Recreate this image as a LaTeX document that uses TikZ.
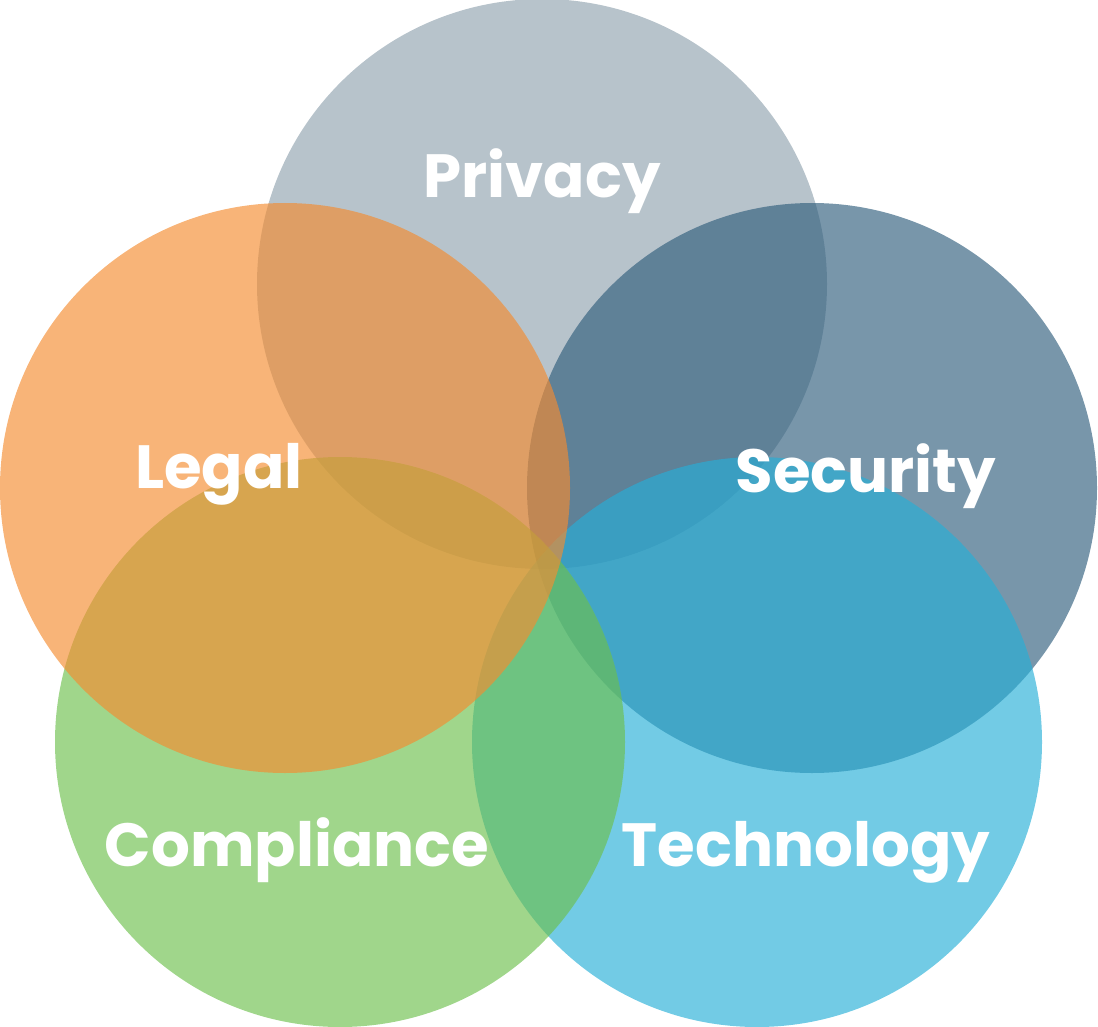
\documentclass[tikz,border=0pt]{standalone}
\usepackage{fontspec}
\setmainfont{Poppins}[UprightFont=* Bold]
\usepackage{xcolor}
\usepackage{tikz}
\usetikzlibrary{positioning}

\definecolor{privacycol}{RGB}{145,163,175}
\definecolor{securitycol}{RGB}{48,94,125}
\definecolor{techcol}{RGB}{38,175,215}
\definecolor{compliancecol}{RGB}{109,192,77}
\definecolor{legalcol}{RGB}{244,140,48}

\begin{document}
\begin{tikzpicture}[
    x=1pt, y=-1pt,
    area/.style={circle, minimum size=570pt, inner sep=0pt, fill opacity=0.65},
    tag/.style={text=white, anchor=base, inner sep=0pt, font=\fontsize{61}{68}\selectfont}
]
    \useasboundingbox (0,0) rectangle (1098,1027);
    % circles, back to front
    \node[area, fill=privacycol] (privacy) at (542,284) {};
    \node[area, fill=securitycol] (security) at (812,488) {};
    \node[area, fill=techcol] (technology) at (757,742) {};
    \node[area, fill=compliancecol] (compliance) at (340,742) {};
    \node[area, fill=legalcol] (legal) at (285,488) {};
    % labels
    \node[tag] (privacylbl) at (542,198) {Privacy};
    \node[tag] (legallbl) at (219,488) {Legal};
    \node[tag] (securitylbl) at (866,492) {Security};
    \node[tag] (compliancelbl) at (297,866) {Compliance};
    \node[tag] (technologylbl) at (806,866) {Technology};
\end{tikzpicture}
\end{document}
